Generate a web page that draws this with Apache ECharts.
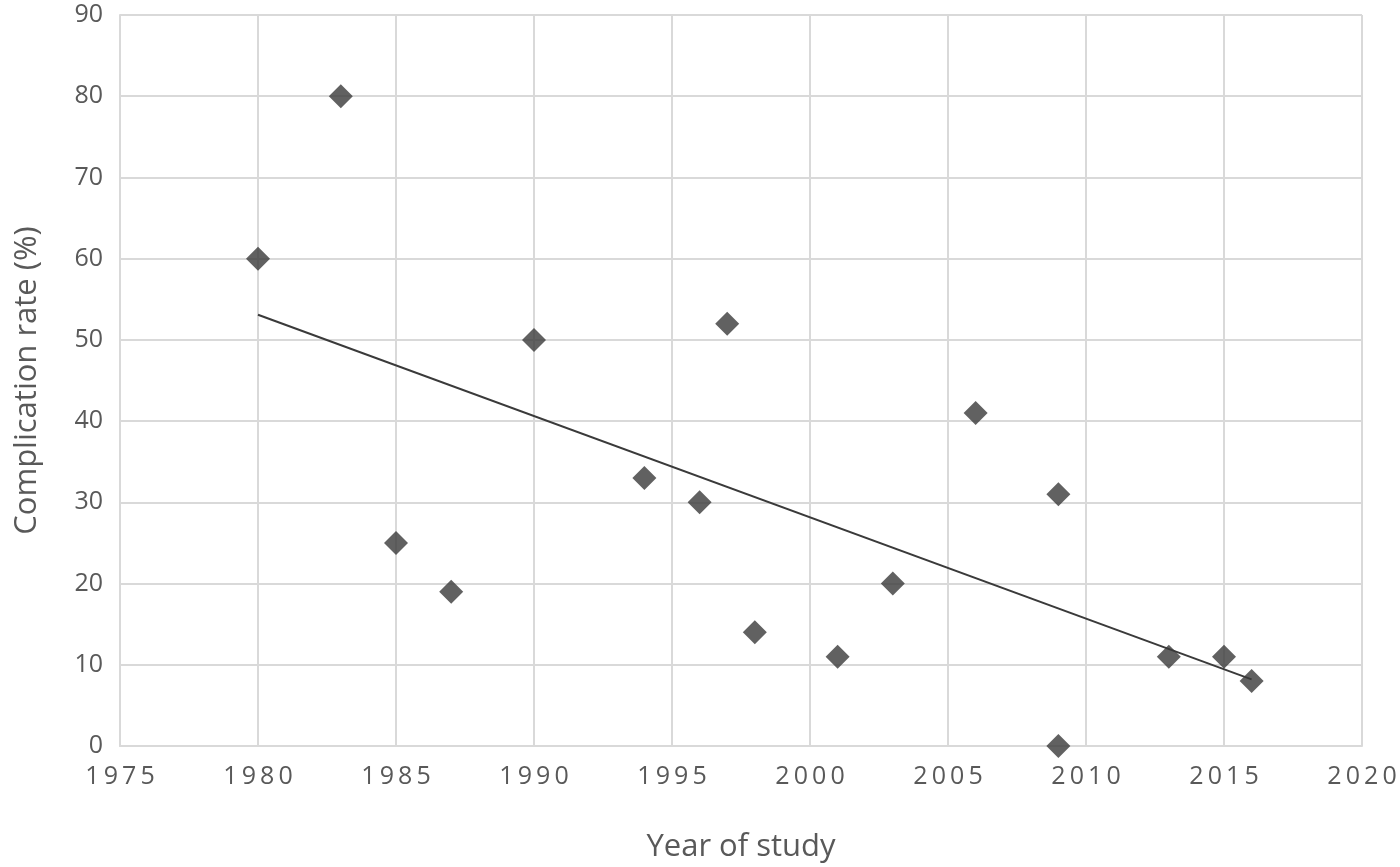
<!DOCTYPE html>
<html>
<head>
<meta charset="utf-8">
<script src="https://cdn.jsdelivr.net/npm/echarts@6/dist/echarts.min.js"></script>
<style>
  html, body { margin: 0; padding: 0; background: #fff; }
  #chart { width: 1400px; height: 867px; }
</style>
</head>
<body>
<div id="chart"></div>
<script>
// study year and complication rate (%)
const years = [1980, 1983, 1985, 1987, 1990, 1994, 1996, 1997, 1998, 2001, 2003, 2006, 2009, 2009, 2013, 2015, 2016];
const rates = [60, 80, 25, 19, 50, 33, 30, 52, 14, 11, 20, 41, 31, 0, 11, 11, 8];

// trend line endpoints (as drawn)
const trendYears = [1980, 2016];
const trendRates = [53.1, 8.2];

const chart = echarts.init(document.getElementById('chart'));

const gridColor = '#d9d9d9';
const textColor = '#595959';

chart.setOption({
    backgroundColor: '#fff',
    animation: false,
    grid: { left: 120, right: 38, top: 15, bottom: 121, outerBoundsMode: 'none' },
    xAxis: {
        type: 'value',
        min: 1975,
        max: 2020,
        interval: 5,
        name: 'Year of study',
        nameLocation: 'middle',
        nameGap: 86,
        nameTextStyle: { fontFamily: 'Open Sans', fontSize: 31, color: textColor },
        axisLine: { show: true, lineStyle: { color: gridColor, width: 2 } },
        axisTick: { show: false },
        axisLabel: {
            margin: 18,
            fontFamily: 'Open Sans',
            fontSize: 25,
            color: textColor,
            formatter: v => String(v).split('').join('\u2009')
        },
        splitLine: { show: true, lineStyle: { color: gridColor, width: 2 } }
    },
    yAxis: {
        type: 'value',
        min: 0,
        max: 90,
        interval: 10,
        name: 'Complication rate (%)',
        nameLocation: 'middle',
        nameGap: 77,
        nameTextStyle: { fontFamily: 'Open Sans', fontSize: 31, color: textColor },
        axisLine: { show: true, lineStyle: { color: gridColor, width: 2 } },
        axisTick: { show: false },
        axisLabel: { margin: 17, fontFamily: 'Open Sans', fontSize: 25, color: textColor },
        splitLine: { show: true, lineStyle: { color: gridColor, width: 2 } }
    },
    series: [
        {
            name: 'Trend',
            type: 'line',
            data: trendYears.map((x, i) => [x, trendRates[i]]),
            symbol: 'none',
            lineStyle: { color: '#3a3a3a', width: 2 },
            z: 2
        },
        {
            name: 'Studies',
            type: 'scatter',
            data: years.map((x, i) => [x, rates[i]]),
            symbol: 'diamond',
            symbolSize: [24, 24],
            itemStyle: { color: '#3a3a3a' },
            z: 3
        }
    ]
});
</script>
</body>
</html>
